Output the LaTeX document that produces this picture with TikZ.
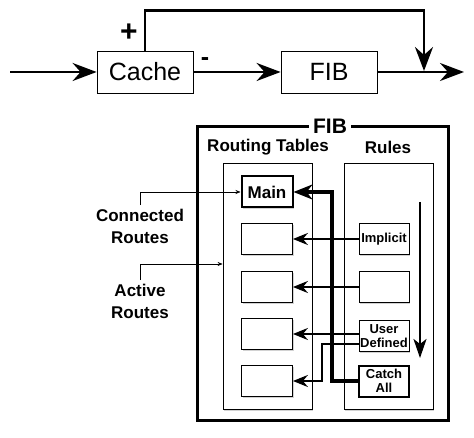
\documentclass[tikz,border=0pt]{standalone}
\usepackage{fontspec}
\setmainfont{Liberation Sans}
\usetikzlibrary{positioning}
\usetikzlibrary{arrows.meta}
\usetikzlibrary{shadows}

\tikzset{
  boxshadow/.style={drop shadow={shadow xshift=1pt, shadow yshift=-1.5pt, opacity=.35}},
  blockbox/.style={draw, fill=white, line width=0.8pt, boxshadow, minimum width=96pt, minimum height=42pt, font=\fontsize{25}{28}\selectfont},
  tablebox/.style={draw, fill=white, line width=0.8pt, boxshadow, minimum width=51pt, minimum height=31pt, inner sep=1pt, font=\bfseries\fontsize{17}{19}\selectfont},
  rulebox/.style={draw, fill=white, line width=0.8pt, boxshadow, minimum width=50pt, minimum height=31pt, inner sep=1pt, align=center, font=\bfseries\fontsize{13}{14.5}\selectfont},
  holder/.style={draw, fill=white, line width=0.8pt, boxshadow, minimum width=89pt, minimum height=246pt},
  flow/.style={line width=2.8pt, -{Stealth[length=24pt, width=18pt, inset=8pt]}},
  route/.style={line width=1.8pt, -{Stealth[length=15pt, width=12pt, inset=5pt]}},
  note/.style={line width=0.6pt, -{Stealth[length=5pt, width=4pt]}},
  label/.style={align=center, font=\bfseries\fontsize{17}{22}\selectfont}
}

\begin{document}
\begin{tikzpicture}[x=1pt, y=-1pt]
\useasboundingbox (0,0) rectangle (474,438);

% feedback loop
\node[blockbox] (cache) at (145,72) {Cache};
\node[blockbox] (fib) at (329,72) {FIB};
\coordinate (in) at (10,72);
\coordinate (out) at (464,72);
\coordinate (join) at (424,71);
\draw [flow] (in) -- (cache);
\draw [flow] (cache) -- (fib);
\draw [flow] (fib) -- (out);
\draw [flow] (cache.north) -- ++(0,-40) -| (join);
\node[font=\bfseries\fontsize{30}{32}\selectfont] (plus) at (129,33) {+};
\node[font=\bfseries\fontsize{25}{28}\selectfont] (minus) at (205,62) {-};

% FIB contents
\node[draw, fill=white, line width=3pt, boxshadow, minimum width=251pt, minimum height=293pt] (fibbox) at (322.5,273.5) {};
\node[fill=white, inner sep=4pt, font=\bfseries\fontsize{21}{24}\selectfont] (fibtitle) at (330,126) {FIB};
\node[label] (tabtitle) at (268,147) {Routing Tables};
\node[label] (ruletitle) at (388,147) {Rules};
\node[holder] (tables) at (267.5,286) {};
\node[holder] (rules) at (388.5,286) {};

\node[tablebox, line width=2pt] (main) at (267,192) {Main};
\node[tablebox] (tab2) at (267,239) {};
\node[tablebox] (tab3) at (267,287) {};
\node[tablebox] (tab4) at (267,334) {};
\node[tablebox] (tab5) at (267,381) {};

\node[rulebox] (implicit) at (384,239) {Implicit};
\node[rulebox] (rule2) at (384,287) {};
\node[rulebox] (user) at (384,336) {User\\Defined};
\node[rulebox, line width=2pt] (catch) at (384,381) {Catch\\All};

\draw [route] (implicit) -- (tab2);
\draw [route] (rule2) -- (tab3);
\draw [route] (user.west |- tab4.east) -- (tab4.east);
\draw [route] ([yshift=-8pt]user.west) -- ++(-37,0) |- (tab5.east);
\draw [line width=3.2pt, -{Stealth[length=19pt, width=15pt, inset=6pt]}] (catch.west) -- ++(-26,0) |- (main.east);

\coordinate (ordertop) at (420,202);
\coordinate (orderend) at (420,358);
\draw [line width=2.2pt, -{Stealth[length=19pt, width=13pt, inset=5pt]}] (ordertop) -- (orderend);

% side notes
\node[label] (connected) at (140,226) {Connected\\Routes};
\node[label] (active) at (140,301) {Active\\Routes};
\draw [note] (connected.north) |- (main.west);
\draw [note] (active.north) |- ([yshift=22pt]tables.west);
\end{tikzpicture}
\end{document}
